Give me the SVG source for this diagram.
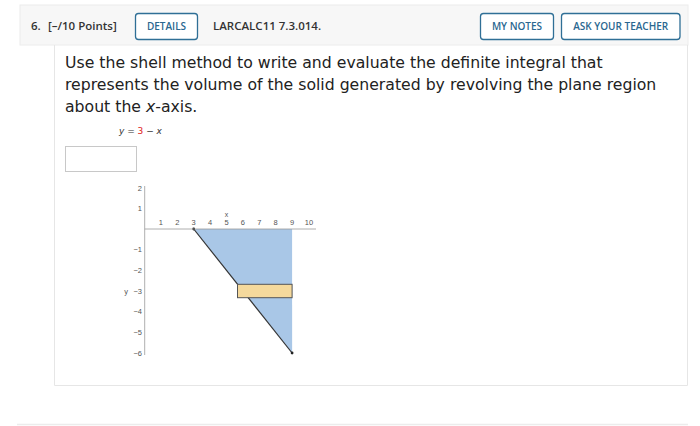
<svg xmlns="http://www.w3.org/2000/svg" width="700" height="426" viewBox="0 0 700 426">
<style>
.hdr{font-family:"Open Sans","Liberation Sans",sans-serif;font-size:11.5px;fill:#333;font-weight:600}
.btn rect{fill:#fff;stroke:#2f6f96;stroke-width:1.3}
.btn text{font-family:"Open Sans","Liberation Sans",sans-serif;font-size:10px;fill:#2a6790;font-weight:600;text-anchor:middle}
.body{font-family:"DejaVu Sans","Verdana",sans-serif;font-size:15.7px;fill:#222}
.tick{font-family:"Liberation Sans",sans-serif;font-size:7.5px;fill:#555}
.ax{stroke:#999;stroke-width:0.8;fill:none}
</style>
<rect width="700" height="426" fill="#fff"/>
<g id="header">
<rect x="20" y="5" width="668" height="40" fill="#f7f7f7" stroke="#ececec"/>
<text class="hdr" x="31" y="30">6.</text>
<text class="hdr" x="48" y="30">[–/10 Points]</text>
<g id="btn-details" class="btn"><rect x="135.5" y="13.5" width="62" height="26" rx="3"/><text x="166.5" y="30">DETAILS</text></g>
<text class="hdr" x="213" y="30" style="font-size:11.5px">LARCALC11 7.3.014.</text>
<g id="btn-notes" class="btn"><rect x="480.5" y="13.5" width="73" height="26" rx="3"/><text x="517" y="30">MY NOTES</text></g>
<g id="btn-ask" class="btn"><rect x="561.5" y="13.5" width="118.5" height="26" rx="3"/><text x="620.7" y="30">ASK YOUR TEACHER</text></g>
</g>
<g id="panel">
<path d="M54.5 45 V385.5 H687.5 V45" fill="none" stroke="#e6e6e6"/>
<text class="body" x="65" y="67.5">Use the shell method to write and evaluate the definite integral that</text>
<text class="body" x="65" y="90">represents the volume of the solid generated by revolving the plane region</text>
<text class="body" x="65" y="111.5">about the <tspan font-style="italic">x</tspan>-axis.</text>
<text x="119" y="134" font-family="DejaVu Sans,sans-serif" font-size="9" fill="#333"><tspan font-style="italic">y</tspan> = <tspan fill="#e02020">3</tspan> − <tspan font-style="italic">x</tspan></text>
<rect id="answer" x="65.5" y="146.5" width="71" height="25" fill="#fff" stroke="#c8c8c8"/>
</g>
<g id="graph">
<polygon points="193.7,229 292.1,229 292.1,353" fill="#a9c7e7"/>
<line x1="193.7" y1="229" x2="292.1" y2="353" stroke="#333" stroke-width="1.2"/>
<rect x="237.5" y="284.3" width="54.6" height="13.4" fill="#f5d99c" stroke="#555" stroke-width="1"/>
<circle cx="193.7" cy="229" r="1.4" fill="#222"/>
<circle cx="292.1" cy="353" r="1.4" fill="#222"/>
<line class="ax" x1="144.7" y1="229" x2="316" y2="229"/>
<line class="ax" x1="144.7" y1="186" x2="144.7" y2="355"/>
<g class="tick" text-anchor="middle">
<text x="160.9" y="225">1</text><text x="177.3" y="225">2</text><text x="193.7" y="225">3</text><text x="210.1" y="225">4</text><text x="226.5" y="225">5</text><text x="226.5" y="216.5" font-size="7">x</text><text x="242.9" y="225">6</text><text x="259.3" y="225">7</text><text x="275.7" y="225">8</text><text x="292.1" y="225">9</text><text x="309" y="225">10</text>
</g>
<g class="tick" text-anchor="end">
<text x="142" y="190.5">2</text><text x="142" y="211">1</text><text x="142" y="252">−1</text><text x="142" y="273">−2</text><text x="142" y="293.5">−3</text><text x="142" y="314">−4</text><text x="142" y="335">−5</text><text x="142" y="355.5">−6</text>
<text x="128" y="293.5">y</text>
</g>
</g>
<line x1="17" y1="424.5" x2="688" y2="424.5" stroke="#ececec" stroke-width="1.5"/>
</svg>
